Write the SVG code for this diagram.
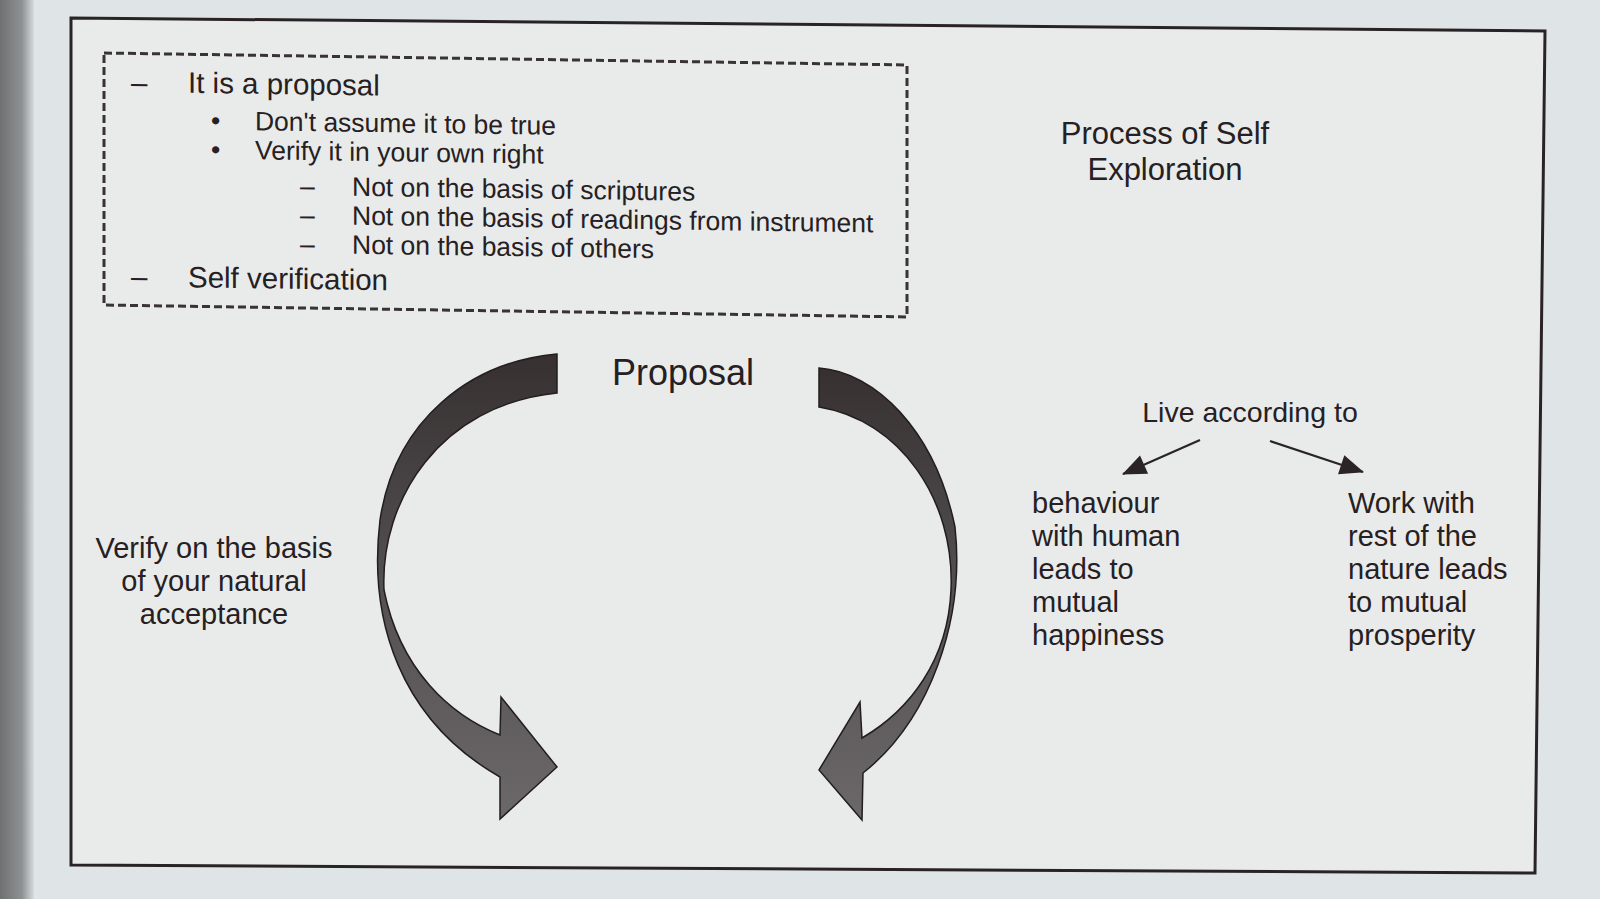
<svg xmlns="http://www.w3.org/2000/svg" width="1600" height="899" viewBox="0 0 1600 899">
<defs>
<linearGradient id="strip" x1="0" y1="0" x2="1" y2="0">
<stop offset="0" stop-color="#6e7071"/>
<stop offset="0.65" stop-color="#8f9293"/>
<stop offset="1" stop-color="#d6dcde"/>
</linearGradient>
<linearGradient id="arrowFill" x1="0" y1="0" x2="0" y2="1">
<stop offset="0" stop-color="#363031"/>
<stop offset="0.5" stop-color="#545051"/>
<stop offset="1" stop-color="#6b6869"/>
</linearGradient>
<marker id="head" viewBox="0 0 24 20" refX="23" refY="10" markerWidth="24" markerHeight="20" markerUnits="userSpaceOnUse" orient="auto" overflow="visible">
<path d="M0,0 L24,10 L0,20 Z" fill="#2a2426"/>
</marker>
<style>
text{font-family:"Liberation Sans",Arial,sans-serif;fill:#262022}
.l1{font-size:29.5px}
.l2{font-size:26.5px}
.body{font-size:29px}
.big{font-size:31px}
.curved{fill:url(#arrowFill);stroke:#231d1f;stroke-width:1.5;stroke-linejoin:miter}
.conn{stroke:#2a2426;stroke-width:2.2;fill:none}
</style>
</defs>
<rect x="0" y="0" width="1600" height="899" fill="#dfe5e7"/>
<rect x="0" y="0" width="34" height="899" fill="url(#strip)"/>
<polygon id="frame" points="71,18 1545,31 1535,873 71,865" fill="#e9ebeb" stroke="#2a2326" stroke-width="3"/>

<g id="note-box" transform="translate(103,53) skewY(0.85) translate(-103,-53)">
<rect x="104" y="53" width="803" height="252" fill="none" stroke="#3a3336" stroke-width="3" stroke-dasharray="8 4"/>
<text class="l1" x="131" y="92">–</text>
<text class="l1" x="188" y="91.5">It is a proposal</text>
<text class="l2" x="211" y="128">•</text>
<text class="l2" x="255" y="128">Don't assume it to be true</text>
<text class="l2" x="211" y="157">•</text>
<text class="l2" x="255" y="157">Verify it in your own right</text>
<text class="l2" x="300" y="192">–</text>
<text class="l2" x="352" y="192">Not on the basis of scriptures</text>
<text class="l2" x="300" y="221">–</text>
<text class="l2" x="352" y="221">Not on the basis of readings from instrument</text>
<text class="l2" x="300" y="250">–</text>
<text class="l2" x="352" y="250">Not on the basis of others</text>
<text class="l1" x="131" y="286">–</text>
<text class="l1" x="188" y="286">Self verification</text>
</g>

<g id="title">
<text class="big" x="1165" y="144" text-anchor="middle">Process of Self</text>
<text class="big" x="1165" y="180" text-anchor="middle">Exploration</text>
</g>

<g id="proposal">
<text x="683" y="385" text-anchor="middle" style="font-size:36px">Proposal</text>
</g>

<g id="verify">
<text class="body" x="214" y="558" text-anchor="middle">Verify on the basis</text>
<text class="body" x="214" y="591" text-anchor="middle">of your natural</text>
<text class="body" x="214" y="624" text-anchor="middle">acceptance</text>
</g>

<g id="live">
<text x="1250" y="422" text-anchor="middle" style="font-size:28.5px">Live according to</text>
</g>

<g id="behaviour">
<text class="body" x="1032" y="513">behaviour</text>
<text class="body" x="1032" y="546">with human</text>
<text class="body" x="1032" y="579">leads to</text>
<text class="body" x="1032" y="612">mutual</text>
<text class="body" x="1032" y="645">happiness</text>
</g>

<g id="work">
<text class="body" x="1348" y="513">Work with</text>
<text class="body" x="1348" y="546">rest of the</text>
<text class="body" x="1348" y="579">nature leads</text>
<text class="body" x="1348" y="612">to mutual</text>
<text class="body" x="1348" y="645">prosperity</text>
</g>

<g id="connectors">
<path class="curved" d="M557,354 C470,362 395,420 380,520 C368,620 400,720 500,777 L500,819 L557,767 L501,697 L500,735 C450,715 400,670 384,590 C380,500 440,405 557,393 Z"/>
<path class="curved" d="M819,368 C875,372 935,430 955,527 C965,620 930,720 863,773 L862,820 L819,770 L860,702 L862,738 C910,710 948,660 951,590 C955,500 900,420 819,407 Z"/>
<line class="conn" x1="1200" y1="440" x2="1123" y2="474" marker-end="url(#head)"/>
<line class="conn" x1="1270" y1="441" x2="1363" y2="472" marker-end="url(#head)"/>
</g>
</svg>
